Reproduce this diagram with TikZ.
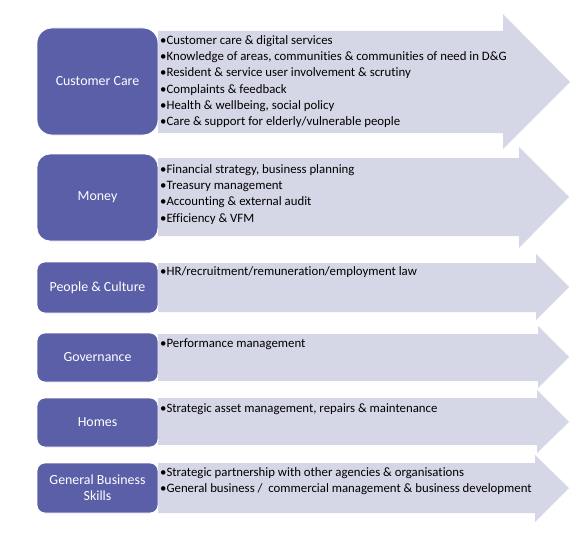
\documentclass[tikz,border=0pt]{standalone}
\usepackage{fontspec}
\setmainfont{Carlito}[Ligatures=NoCommon]
\usetikzlibrary{positioning}
\definecolor{AreaBlue}{HTML}{5A5FA8}
\definecolor{BandLilac}{HTML}{D5D7E6}
\tikzset{
    % Box styles - rounded, filled
    area/.style={
        rectangle,
        rounded corners=8pt,
        draw=white,
        line width=0.8pt,
        fill=AreaBlue,
        text=white,
        minimum width=121pt,
        align=center,
        inner sep=2pt,
        font=\fontsize{13.9}{16}\selectfont
    },
    bullets/.style={
        anchor=north west,
        align=left,
        inner sep=0pt,
        font=\fontsize{12.8}{16.2}\selectfont
    },
    % Arrow band behind the lists
    band/.style={
        fill=BandLilac,
        draw=none
    }
}

\begin{document}
\begin{tikzpicture}[x=1pt, y=-1pt]
    \useasboundingbox (0,0) rectangle (586,535);

    % bands
    \fill[band] (158,31) -- (503,31) -- (503,14) -- (570,82) -- (503,149) -- (503,133) -- (158,133) -- cycle;
    \fill[band] (158,158) -- (519,158) -- (519,147) -- (569,197) -- (519,248) -- (519,236) -- (158,236) -- cycle;
    \fill[band] (158,263) -- (536,263) -- (536,254) -- (569,287) -- (536,320) -- (536,312) -- (158,312) -- cycle;
    \fill[band] (158,334) -- (538,334) -- (538,326) -- (569,357) -- (538,388) -- (538,381) -- (158,381) -- cycle;
    \fill[band] (158,398) -- (537,398) -- (537,390) -- (569,422) -- (537,453) -- (537,445) -- (158,445) -- cycle;
    \fill[band] (158,463) -- (535,463) -- (535,455) -- (569,488) -- (535,522) -- (535,513) -- (158,513) -- cycle;

    % areas
    \node[area, rounded corners=15pt, minimum height=107pt] (care) at (97.5,81.5) {Customer Care};
    \node[area, rounded corners=13pt, minimum height=87pt] (money) at (97.5,197.5) {Money};
    \node[area, minimum height=51pt] (people) at (97.5,287.5) {People \& Culture};
    \node[area, minimum height=49pt] (gov) at (97.5,357.5) {Governance};
    \node[area, minimum height=49pt] (homes) at (97.5,422.5) {Homes};
    \node[area, minimum height=50pt] (general) at (97.5,488) {General Business\\Skills};

    % lists
    \node[bullets] (care-list) at (160,35.5) {•Customer care \& digital services\\
        •Knowledge of areas, communities \& communities of need in D\&G\\
        •Resident \& service user involvement \& scrutiny\\
        •Complaints \& feedback\\
        •Health \& wellbeing, social policy\\
        •Care \& support for elderly/vulnerable people};
    \node[bullets] (money-list) at (160,164.5) {•Financial strategy, business planning\\
        •Treasury management\\
        •Accounting \& external audit\\
        •Efficiency \& VFM};
    \node[bullets] (people-list) at (160,266.5) {•HR/recruitment/remuneration/employment law};
    \node[bullets] (gov-list) at (160,338.5) {•Performance management};
    \node[bullets] (homes-list) at (160,403.5) {•Strategic asset management, repairs \& maintenance};
    \node[bullets] (general-list) at (160,467.5) {•Strategic partnership with other agencies \& organisations\\
        •General business /~ commercial management \& business development};
\end{tikzpicture}
\end{document}
